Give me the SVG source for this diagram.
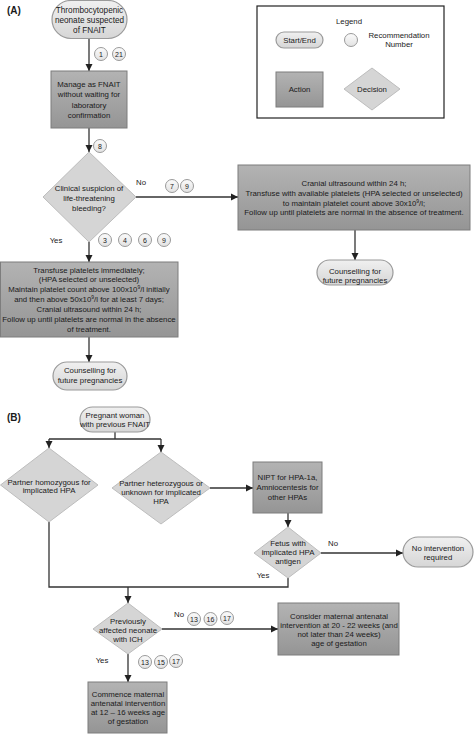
<svg xmlns="http://www.w3.org/2000/svg" width="474" height="735" viewBox="0 0 474 735">
<style>
text{font-family:"Liberation Sans",Arial,sans-serif;font-size:7.8px;fill:#1a1a1a;text-anchor:middle}
.lbl{font-weight:bold;font-size:10px;text-anchor:start}
.act{fill:url(#gAct);stroke:#7d7d7d;stroke-width:1}
.dec{fill:#d5d5d5;stroke:#bdbdbd;stroke-width:1}
.term{fill:url(#gTerm);stroke:#9a9a9a;stroke-width:1.2}
.rec{fill:url(#gRec);stroke:#9a9a9a;stroke-width:1}
.rt{font-size:7px}
.big{font-size:8.2px}
.ln{fill:none;stroke:#333;stroke-width:1.3}
.arr{fill:none;stroke:#333;stroke-width:1.3;marker-end:url(#ah)}
.sup{font-size:5px}
</style>
<defs>
<linearGradient id="gAct" x1="0" y1="0" x2="0" y2="1"><stop offset="0" stop-color="#b3b3b3"/><stop offset="1" stop-color="#959595"/></linearGradient>
<linearGradient id="gTerm" x1="0" y1="0" x2="0" y2="1"><stop offset="0" stop-color="#f0f0f0"/><stop offset="1" stop-color="#d6d6d6"/></linearGradient>
<linearGradient id="gRec" x1="0" y1="0" x2="0" y2="1"><stop offset="0" stop-color="#fbfbfb"/><stop offset="1" stop-color="#e2e2e2"/></linearGradient>
<marker id="ah" markerWidth="8" markerHeight="8" refX="7" refY="4" orient="auto" markerUnits="userSpaceOnUse"><path d="M0,0.5 L7,4 L0,7.5 Z" fill="#222"/></marker>
</defs>
<rect width="474" height="735" fill="#fff"/>
<text class="lbl" x="7" y="14">(A)</text>
<text class="lbl" x="7" y="421">(B)</text>

<g id="legend">
<rect x="257" y="6" width="187" height="112" fill="#fff" stroke="#222" stroke-width="1.2"/>
<text x="349" y="23.5">Legend</text>
<rect class="term" x="276" y="32" width="47" height="16" rx="8"/>
<text x="299.5" y="42.5">Start/End</text>
<circle class="rec" cx="351" cy="40" r="6.5"/>
<text x="399" y="37.5">Recommendation</text>
<text x="399" y="46.5">Number</text>
<rect class="act" x="276" y="72" width="47" height="35"/>
<text x="299.5" y="92">Action</text>
<polygon class="dec" points="372,68 400,89 372,110 344,89"/>
<text x="372" y="92">Decision</text>
</g>

<g id="connectors">
<line class="arr" x1="89" y1="39" x2="89" y2="71"/>
<line class="arr" x1="89" y1="128" x2="89" y2="152"/>
<line class="arr" x1="136" y1="197" x2="238" y2="197"/>
<line class="arr" x1="89" y1="242" x2="89" y2="262"/>
<line class="arr" x1="355" y1="230" x2="355" y2="260"/>
<line class="arr" x1="89" y1="337" x2="89" y2="362"/>
<polyline class="ln" points="115,432 115,439"/>
<polyline class="ln" points="49,439 161,439"/>
<line class="arr" x1="49" y1="439" x2="49" y2="448"/>
<line class="arr" x1="161" y1="439" x2="161" y2="452"/>
<line class="arr" x1="210" y1="488" x2="253" y2="488"/>
<line class="arr" x1="288" y1="513" x2="288" y2="527"/>
<line class="arr" x1="321" y1="553" x2="403" y2="553"/>
<polyline class="ln" points="288,578 288,587 49,587 49,522"/>
<line class="arr" x1="128" y1="587" x2="128" y2="603"/>
<line class="arr" x1="162" y1="629" x2="278" y2="629"/>
<line class="arr" x1="128" y1="654" x2="128" y2="682"/>
<text x="141" y="184.5">No</text>
<text x="56" y="242.5">Yes</text>
<text x="333" y="545.5">No</text>
<text x="263" y="577.5">Yes</text>
<text x="179" y="617">No</text>
<text x="102" y="663">Yes</text>
</g>

<g id="recs">
<circle class="rec" cx="101" cy="54" r="6.5"/><text class="rt" x="101" y="56.5">1</text>
<circle class="rec" cx="119" cy="54" r="6.5"/><text class="rt" x="119" y="56.5">21</text>
<circle class="rec" cx="100" cy="146" r="6.5"/><text class="rt" x="100" y="148.5">8</text>
<circle class="rec" cx="172" cy="186" r="6.5"/><text class="rt" x="172" y="188.5">7</text>
<circle class="rec" cx="187" cy="186" r="6.5"/><text class="rt" x="187" y="188.5">9</text>
<circle class="rec" cx="105" cy="240" r="6.5"/><text class="rt" x="105" y="242.5">3</text>
<circle class="rec" cx="125" cy="240" r="6.5"/><text class="rt" x="125" y="242.5">4</text>
<circle class="rec" cx="145" cy="240" r="6.5"/><text class="rt" x="145" y="242.5">6</text>
<circle class="rec" cx="164" cy="240" r="6.5"/><text class="rt" x="164" y="242.5">9</text>
<circle class="rec" cx="194" cy="619" r="6.5"/><text class="rt" x="194" y="621.5">13</text>
<circle class="rec" cx="210.5" cy="619" r="6.5"/><text class="rt" x="210.5" y="621.5">16</text>
<circle class="rec" cx="227" cy="618" r="6.5"/><text class="rt" x="227" y="620.5">17</text>
<circle class="rec" cx="145" cy="662" r="6.5"/><text class="rt" x="145" y="664.5">13</text>
<circle class="rec" cx="161" cy="662" r="6.5"/><text class="rt" x="161" y="664.5">15</text>
<circle class="rec" cx="176" cy="661" r="6.5"/><text class="rt" x="176" y="663.5">17</text>
</g>

<g id="startA">
<rect class="term" x="52" y="0.5" width="75" height="38" rx="19"/>
<text class="big" x="89.5" y="12.5">Thrombocytopenic</text>
<text class="big" x="89.5" y="22.5">neonate suspected</text>
<text class="big" x="89.5" y="32.5">of FNAIT</text>
</g>
<g id="manage">
<rect class="act" x="51" y="71" width="76" height="57"/>
<text x="89" y="86.5">Manage as FNAIT</text>
<text x="89" y="97">without waiting for</text>
<text x="89" y="107.5">laboratory</text>
<text x="89" y="118">confirmation</text>
</g>
<g id="clinical">
<polygon class="dec" points="89,152 136,197 89,242 43,197"/>
<text x="89" y="190.5">Clinical suspicion of</text>
<text x="89" y="200.5">life-threatening</text>
<text x="89" y="210.5">bleeding?</text>
</g>
<g id="cranial">
<rect class="act" x="238" y="165" width="232" height="65"/>
<text x="354" y="185.5">Cranial ultrasound within 24 h;</text>
<text x="354" y="195.5">Transfuse with available platelets (HPA selected or unselected)</text>
<text x="354" y="205.5">to maintain platelet count above 30x10<tspan class="sup" dy="-3">9</tspan><tspan dy="3">/l;</tspan></text>
<text x="354" y="215">Follow up until platelets are normal in the absence of treatment.</text>
</g>
<g id="counselRight">
<rect class="term" x="317" y="260" width="76" height="25" rx="12.5"/>
<text x="355" y="273.5">Counselling for</text>
<text x="355" y="283">future pregnancies</text>
</g>
<g id="transfuse">
<rect class="act" x="0.5" y="262" width="177.5" height="75"/>
<text x="89" y="272.5">Transfuse platelets immediately;</text>
<text x="89" y="281.5">(HPA selected or unselected)</text>
<text x="89" y="291.5">Maintain platelet count above 100x10<tspan class="sup" dy="-3">9</tspan><tspan dy="3">/l initially</tspan></text>
<text x="89" y="301.5">and then above 50x10<tspan class="sup" dy="-3">9</tspan><tspan dy="3">/l for at least 7 days;</tspan></text>
<text x="89" y="311.5">Cranial ultrasound within 24 h;</text>
<text x="89" y="321.5">Follow up until platelets are normal in the absence</text>
<text x="89" y="331.5">of treatment.</text>
</g>
<g id="counselLeft">
<rect class="term" x="53" y="362" width="74" height="28" rx="14"/>
<text x="90" y="373">Counselling for</text>
<text x="90" y="383">future pregnancies</text>
</g>

<g id="startB">
<rect class="term" x="80" y="407" width="70" height="25" rx="12.5"/>
<text x="115" y="417.5">Pregnant woman</text>
<text x="115" y="426.5">with previous FNAIT</text>
</g>
<g id="homozygous">
<polygon class="dec" points="49,448 98,485 49,522 0.5,485"/>
<text x="49" y="484.5">Partner homozygous for</text>
<text x="49" y="493">implicated HPA</text>
</g>
<g id="heterozygous">
<polygon class="dec" points="161,452 210,488 161,524 112,488"/>
<text x="161" y="485.5">Partner heterozygous or</text>
<text x="161" y="494.5">unknown for implicated</text>
<text x="161" y="503.5">HPA</text>
</g>
<g id="nipt">
<rect class="act" x="253" y="462" width="69" height="51"/>
<text x="287.5" y="479.5">NIPT for HPA-1a,</text>
<text x="287.5" y="489.5">Amniocentesis for</text>
<text x="287.5" y="499.5">other HPAs</text>
</g>
<g id="fetus">
<polygon class="dec" points="288,527 321,553 288,578 254,553"/>
<text x="288" y="545.5">Fetus with</text>
<text x="288" y="554.5">implicated HPA</text>
<text x="288" y="563.5">antigen</text>
</g>
<g id="noIntervention">
<rect class="term" x="403" y="537" width="70" height="30" rx="15"/>
<text x="438" y="550.5">No intervention</text>
<text x="438" y="559.5">required</text>
</g>
<g id="previously">
<polygon class="dec" points="128,603 162,629 128,654 93,629"/>
<text x="128" y="623.5">Previously</text>
<text x="128" y="632.5">affected neonate</text>
<text x="128" y="641.5">with ICH</text>
</g>
<g id="consider">
<rect class="act" x="278" y="603" width="121" height="52"/>
<text x="339" y="618.5">Consider maternal antenatal</text>
<text x="339" y="627.5">intervention  at 20 - 22 weeks (and</text>
<text x="339" y="636.5">not later than 24 weeks)</text>
<text x="339" y="645.5">age of gestation</text>
</g>
<g id="commence">
<rect class="act" x="88" y="682" width="79" height="51"/>
<text x="128" y="696.5">Commence maternal</text>
<text x="128" y="705.5">antenatal intervention</text>
<text x="128" y="714.5">at 12 – 16 weeks age</text>
<text x="128" y="723.5">of gestation</text>
</g>
</svg>
